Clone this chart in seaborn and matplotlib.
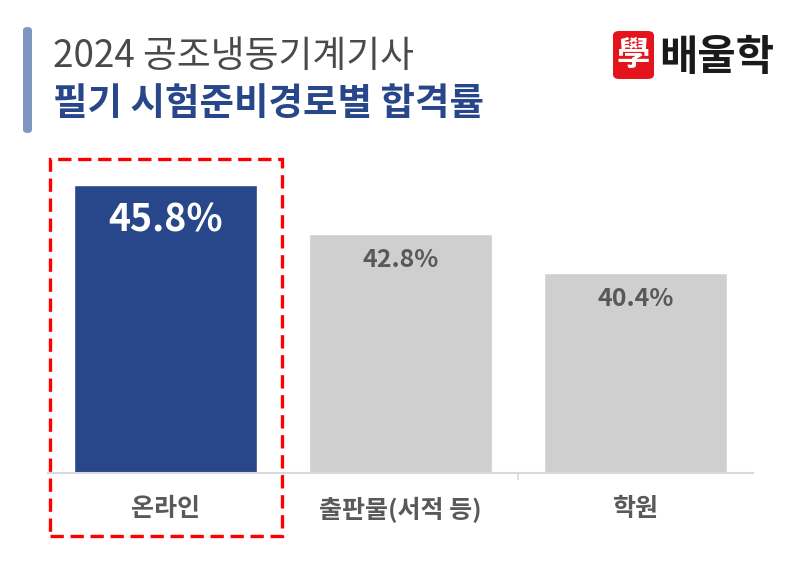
import matplotlib
matplotlib.use("Agg")
import matplotlib.pyplot as plt
from matplotlib.patches import Rectangle, FancyBboxPatch
import seaborn as sns
import pandas as pd

# data
routes = ["온라인", "출판물(서적 등)", "학원"]
pass_rate = [45.8, 42.8, 40.4]
title_1 = "2024 공조냉동기계기사"
title_2 = "필기 시험준비경로별 합격률"

navy = "#28468a"
light_gray = "#d0cfd0"
text_gray = "#595959"

sns.set_theme(style="white")
plt.rcParams["font.family"] = ["Noto Sans CJK KR", "Noto Sans CJK SC", "DejaVu Sans"]

df = pd.DataFrame({"route": routes, "rate": pass_rate})
palette = {routes[0]: navy, routes[1]: light_gray, routes[2]: light_gray}

fig = plt.figure(figsize=(8, 5.61), dpi=100)
W, H = 800, 561
ax = fig.add_axes([48 / W, (H - 473) / H, 705 / W, (473 - 149) / H])

sns.barplot(data=df, x="route", y="rate", hue="route", palette=palette,
            width=0.775, saturation=1, legend=False, ax=ax)

ax.set_ylim(28.17, 48)
ax.set_xlim(-0.5, 2.5)
ax.set_xlabel("")
ax.set_ylabel("")
ax.set_yticks([])
for s in ["top", "right", "left"]:
    ax.spines[s].set_visible(False)
ax.spines["bottom"].set_color("#d9d9d9")
ax.spines["bottom"].set_linewidth(1.5)

ax.set_xticks(range(len(routes)))
ax.set_xticklabels(routes, fontsize=18, fontweight="bold", color=text_gray)
ax.tick_params(axis="x", length=0, pad=17)
ax.set_xticks([0.5, 1.5], minor=True)
ax.tick_params(axis="x", which="minor", length=5, width=1.2, color="#d9d9d9", direction="out")
ax.xaxis.set_tick_params(which="minor", bottom=True)

# value labels
for i, v in enumerate(pass_rate):
    if i == 0:
        ax.annotate(f"{v}%", (i, v), xytext=(0, -35), textcoords="offset pixels",
                    ha="center", va="center", color="white", fontsize=27, fontweight="bold")
    else:
        ax.annotate(f"{v}%", (i, v), xytext=(0, -26), textcoords="offset pixels",
                    ha="center", va="center", color=text_gray, fontsize=18, fontweight="bold")

# dashed highlight box around first category
fig.patches.append(Rectangle((50 / W, (H - 536) / H), 232 / W, (536 - 159) / H,
                             transform=fig.transFigure, fill=False, edgecolor="#ff0000",
                             linewidth=2.4, linestyle=(0, (4, 2))))

# title block
fig.patches.append(FancyBboxPatch((23 / W, (H - 133) / H), 9 / W, 106 / H,
                                  boxstyle="round,pad=0,rounding_size=0.006",
                                  transform=fig.transFigure, facecolor="#7f96c0",
                                  edgecolor="none"))
fig.text(53 / W, (H - 57) / H, title_1, fontsize=26.5, color="#4a4a4a",
         ha="left", va="center", fontweight="medium")
fig.text(53 / W, (H - 103) / H, title_2, fontsize=27, color=navy,
         ha="left", va="center", fontweight="bold")

# logo
fig.patches.append(FancyBboxPatch((613 / W, (H - 79) / H), 41 / W, 48 / H,
                                  boxstyle="round,pad=0,rounding_size=0.008",
                                  transform=fig.transFigure, facecolor="#e3141b",
                                  edgecolor="none"))
fig.text(633.5 / W, (H - 56) / H, "學", fontsize=24, color="white", fontweight="bold",
         ha="center", va="center", family=["Noto Sans CJK SC", "Noto Sans CJK KR"])
fig.text(659 / W, (H - 58) / H, "배울학", fontsize=30, color="#1a1a1a", fontweight="bold",
         ha="left", va="center")

fig.savefig("out.png", dpi=100, facecolor="white")
